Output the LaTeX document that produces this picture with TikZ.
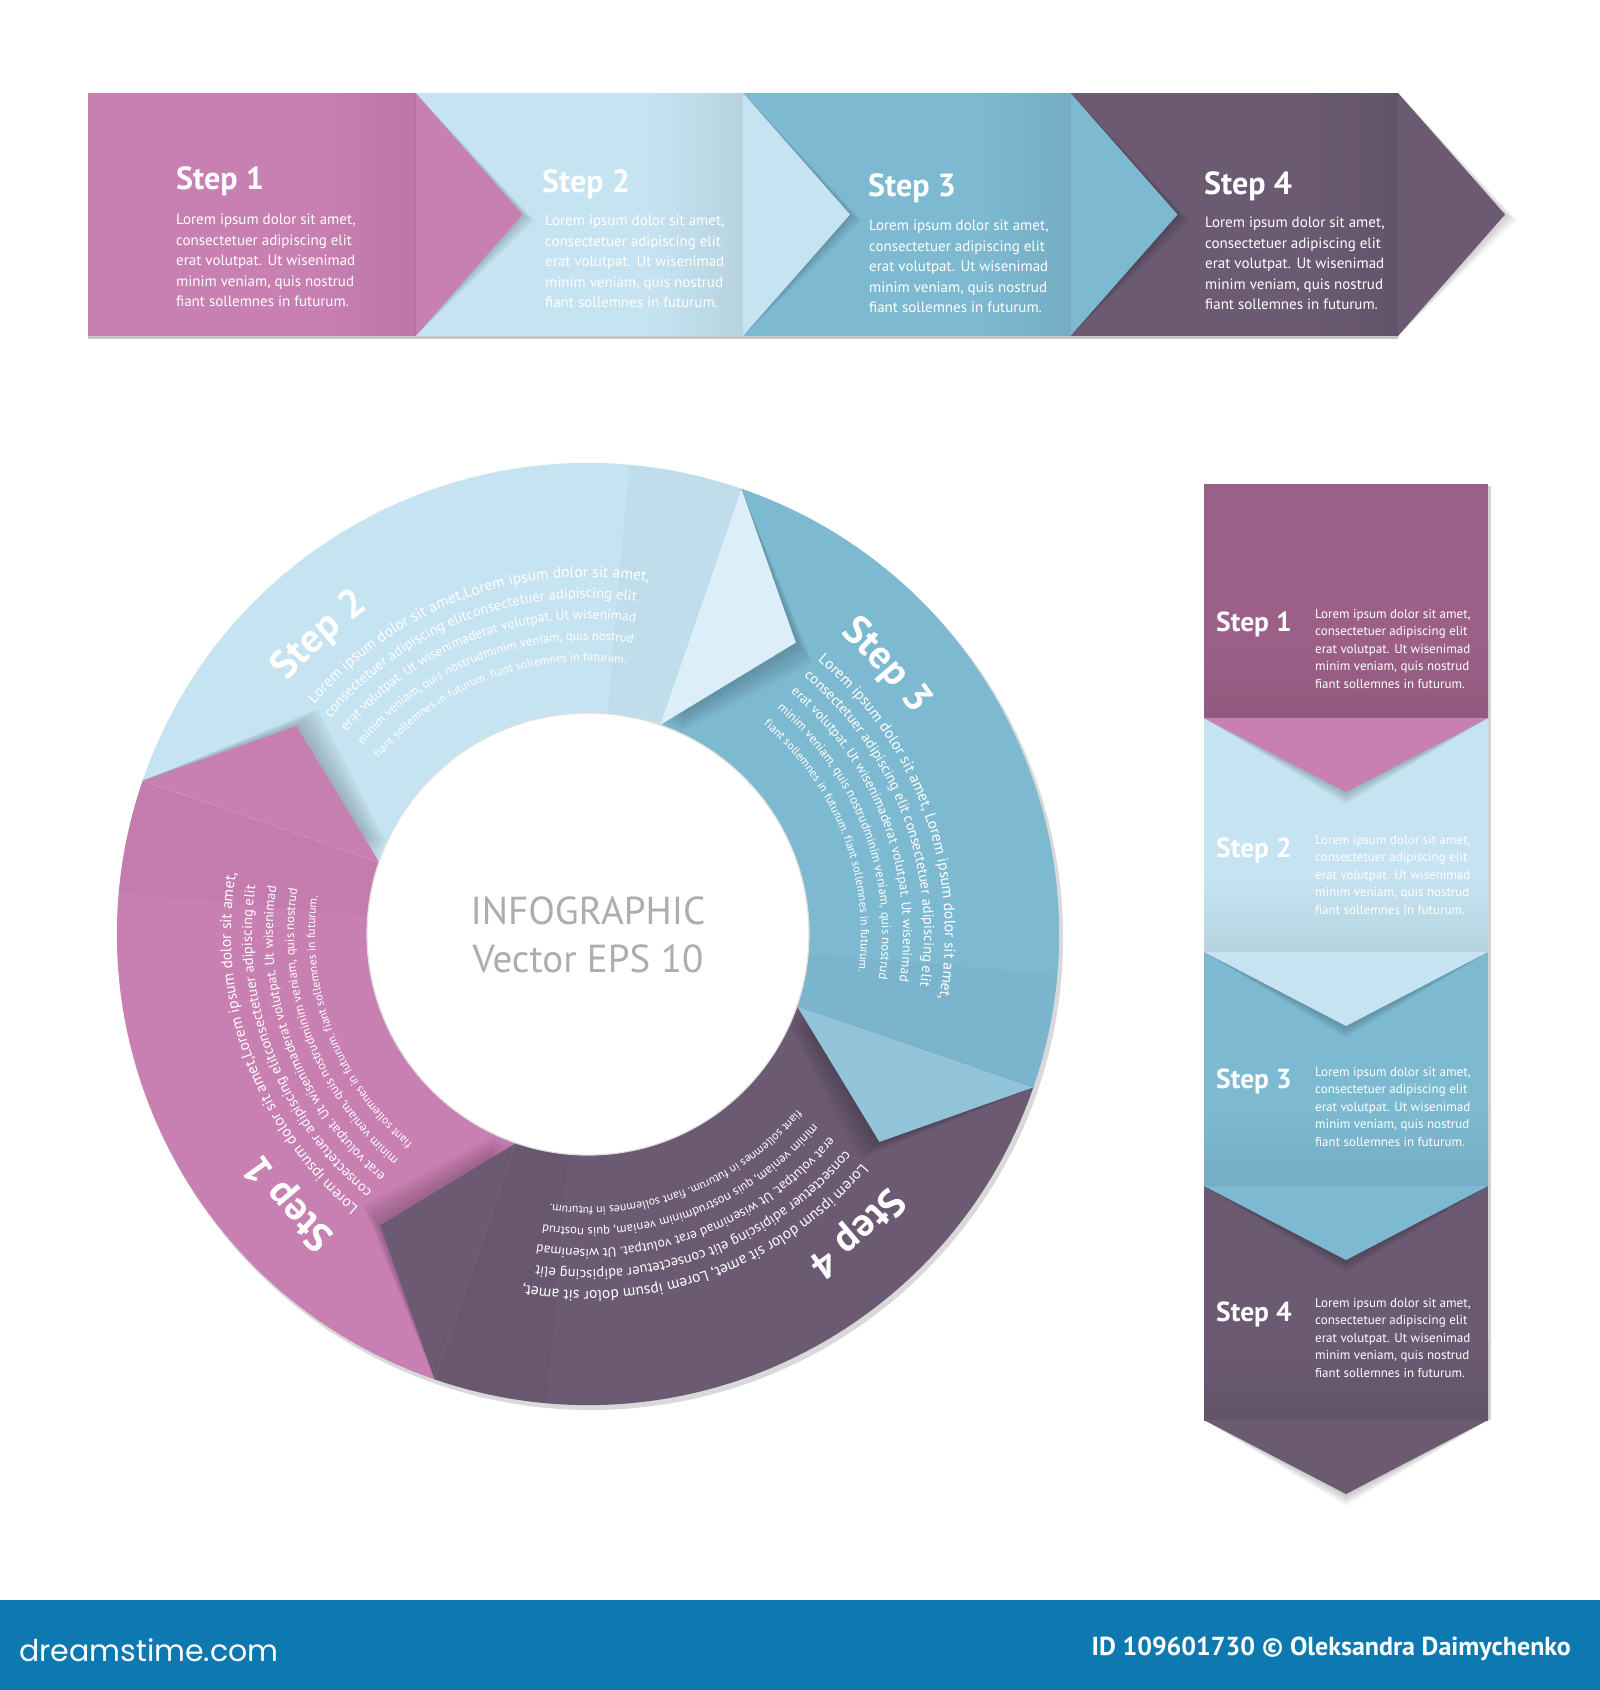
\documentclass[tikz,border=0pt]{standalone}
\usepackage{fontspec}
\setmainfont{PT Sans}
\newfontfamily\logofont{Poppins}
\usetikzlibrary{decorations.text}

\definecolor{stepPink}{HTML}{C87FB2}
\definecolor{stepSky}{HTML}{C5E3F1}
\definecolor{stepBlue}{HTML}{7DBAD2}
\definecolor{stepPlum}{HTML}{6B5A72}
\definecolor{stepMauve}{HTML}{9C6088}
\definecolor{barBlue}{HTML}{0E78B0}
\definecolor{centreGray}{HTML}{ADADAD}

\newcommand{\loremlines}{Lorem ipsum dolor sit amet,\\consectetuer adipiscing elit\\erat volutpat. Ut wisenimad\\minim veniam, quis nostrud\\fiant sollemnes in futurum.}

\newcommand{\ringline}[4]{%
  {\fontsize{#3}{#3}\selectfont
  \path[decorate, decoration={text along path, text color=white, text={#4}}]
    (#1:#2) arc[start angle=#1, end angle=#1-80, radius=#2];}}
\newcommand{\ringlabel}[2]{%
  {\bfseries\fontsize{40}{40}\selectfont
  \path[decorate, decoration={text along path, text color=white, text={#2}}]
    (#1:392) arc[start angle=#1, end angle=#1-40, radius=392];}}

\tikzset{
  rowlabel/.style={text=white, font=\bfseries\fontsize{32}{32}\selectfont, anchor=base west, inner sep=0pt},
  rownote/.style={text=white, font=\fontsize{15}{20.5}\selectfont, align=left, anchor=north west, inner sep=0pt},
  striplabel/.style={text=white, font=\bfseries\fontsize{27.5}{27.5}\selectfont, anchor=base west, inner sep=0pt},
  stripnote/.style={text=white, font=\fontsize{13}{17.5}\selectfont, align=left, anchor=north west, inner sep=0pt},
  centretext/.style={text=centreGray, font=\fontsize{39}{39}\selectfont, inner sep=0pt},
  softshade/.style={black, opacity=0.025}
}

\begin{document}
\begin{tikzpicture}[x=1pt, y=1pt]
\useasboundingbox (0,0) rectangle (1600,-1690);
\fill[white] (0,0) rectangle (1600,-1690);

\foreach \i/\col in {0/stepPink, 1/stepSky, 2/stepBlue, 3/stepPlum} {
  \fill[\col] ({88+327.5*\i},-93) rectangle ({415.5+327.5*\i},-336);
  \shade[left color=\col, right color=\col!93!black] ({320+327.5*\i},-93) rectangle ({415.5+327.5*\i},-336);
}
\fill[gray!45] (88,-336) rectangle (1398,-339);
\foreach \i/\col in {0/stepPink, 1/stepSky, 2/stepBlue, 3/stepPlum} {
  \foreach \k in {1,...,6}
    \fill[black, opacity=0.03] ({415.5+327.5*\i},-93) -- ({522.5+327.5*\i+2*\k},{-214.5-\k}) -- ({415.5+327.5*\i},-336) -- cycle;
  \fill[\col] ({415.5+327.5*\i},-93) -- ({522.5+327.5*\i},-214.5) -- ({415.5+327.5*\i},-336) -- cycle;
}

\node[rowlabel] (h1lab) at (176,-189) {Step 1};
\node[rowlabel] (h2lab) at (542,-192) {Step 2};
\node[rowlabel] (h3lab) at (868,-196) {Step 3};
\node[rowlabel] (h4lab) at (1204,-194) {Step 4};
\node[rownote] (h1note) at (176,-214) {\loremlines};
\node[rownote] (h2note) at (545,-215) {\loremlines};
\node[rownote] (h3note) at (869,-220) {\loremlines};
\node[rownote] (h4note) at (1205,-217) {\loremlines};

\begin{scope}[shift={(588,-934)}]
  \fill[gray!30] (3,-4) circle[radius=472];
  \foreach \S/\E/\col in {251/161/stepPink, 161/71/stepSky, 71/-19/stepBlue, -19/-109/stepPlum} {
    \fill[\col] (\S:471) arc[start angle=\S, end angle=\E, radius=471]
      -- (\E:221) arc[start angle=\E, end angle=\S, radius=221] -- cycle;
    \fill[softshade] ({\E+14}:471) arc[start angle=\E+14, end angle=\E, radius=471]
      -- (\E:221) arc[start angle=\E, end angle=\E+14, radius=221] -- cycle;
  }
  \fill[white] (0,0) circle[radius=221];
  \foreach \E/\flap in {161/stepPink, 71/stepSky!60!white, -19/stepBlue!85!white, -109/stepPlum} {
    \foreach \k in {1,...,6}
      \fill[black, opacity=0.035] (\E:471) -- ({\E-16.5-0.7*\k}:{358-\k}) -- ({\E-0.9*\k}:221) -- cycle;
    \fill[\flap] (\E:471) -- ({\E-16.5}:358) -- (\E:221) -- cycle;
  }
  \draw[gray!25, line width=1.2] (0,0) circle[radius=221];

  \node[centretext] (title) at (0,23) {INFOGRAPHIC};
  \node[centretext] (subtitle) at (0,-25) {Vector EPS 10};

  \ringlabel{140}{Step 2}
  \ringline{140}{357}{15.5}{Lorem ipsum dolor sit amet,Lorem ipsum dolor sit amet,}
  \ringline{140}{336}{14.5}{consectetuer adipiscing elitconsectetuer adipiscing elit}
  \ringline{140}{315}{13.6}{erat volutpat. Ut wisenimaderat volutpat. Ut wisenimad}
  \ringline{140}{294}{12.7}{minim veniam, quis nostrudminim veniam, quis nostrud}
  \ringline{140}{273}{11.8}{fiant sollemnes in futurum. fiant sollemnes in futurum.}

  \ringlabel{50}{Step 3}
  \ringline{50}{357}{15.5}{Lorem ipsum dolor sit amet, Lorem ipsum dolor sit amet,}
  \ringline{50}{336}{14.5}{consectetuer adipiscing elit consectetuer adipiscing elit}
  \ringline{50}{315}{13.6}{erat volutpat. Ut wisenimaderat volutpat. Ut wisenimad}
  \ringline{50}{294}{12.7}{minim veniam, quis nostrudminim veniam, quis nostrud}
  \ringline{50}{273}{11.8}{fiant sollemnes in futurum. fiant sollemnes in futurum.}

  \ringlabel{-40}{Step 4}
  \ringline{-40}{357}{15.5}{Lorem ipsum dolor sit amet, Lorem ipsum dolor sit amet,}
  \ringline{-40}{336}{14.5}{consectetuer adipiscing elit consectetuer adipiscing elit}
  \ringline{-40}{315}{13.6}{erat volutpat. Ut wisenimad erat volutpat. Ut wisenimad}
  \ringline{-40}{294}{12.7}{minim veniam, quis nostrudminim veniam, quis nostrud}
  \ringline{-40}{273}{11.8}{fiant sollemnes in futurum. fiant sollemnes in futurum.}

  \ringlabel{230}{Step 1}
  \ringline{230}{357}{15.5}{Lorem ipsum dolor sit amet,Lorem ipsum dolor sit amet,}
  \ringline{230}{336}{14.5}{consectetuer adipiscing elitconsectetuer adipiscing elit}
  \ringline{230}{315}{13.6}{erat volutpat. Ut wisenimaderat volutpat. Ut wisenimad}
  \ringline{230}{294}{12.7}{minim veniam, quis nostrudminim veniam, quis nostrud}
  \ringline{230}{273}{11.8}{fiant sollemnes in futurum. fiant sollemnes in futurum.}
\end{scope}

\fill[gray!35] (1488,-486) rectangle (1491,-1420);
\foreach \i/\col in {0/stepMauve, 1/stepSky, 2/stepBlue, 3/stepPlum} {
  \fill[\col] (1204,{-484-234*\i}) rectangle (1488,{-718-234*\i});
  \shade[top color=\col, bottom color=\col!93!black] (1204,{-640-234*\i}) rectangle (1488,{-718-234*\i});
}
\foreach \i/\col in {0/stepPink, 1/stepSky, 2/stepBlue, 3/stepPlum} {
  \foreach \k in {1,...,6}
    \fill[black, opacity=0.035] (1204,{-718-234*\i}) -- (1346,{-792-234*\i-2*\k}) -- (1488,{-718-234*\i}) -- cycle;
  \fill[\col] (1204,{-718-234*\i}) -- (1346,{-792-234*\i}) -- (1488,{-718-234*\i}) -- cycle;
}

\node[striplabel] (v1lab) at (1216,-631) {Step 1};
\node[striplabel] (v2lab) at (1216,-857) {Step 2};
\node[striplabel] (v3lab) at (1216,-1088) {Step 3};
\node[striplabel] (v4lab) at (1216,-1321) {Step 4};
\node[stripnote] (v1note) at (1315,-609) {\loremlines};
\node[stripnote] (v2note) at (1315,-835) {\loremlines};
\node[stripnote] (v3note) at (1315,-1067) {\loremlines};
\node[stripnote] (v4note) at (1315,-1298) {\loremlines};

\fill[barBlue] (0,-1600) rectangle (1600,-1690);
\node[text=white, font=\logofont\fontsize{30}{30}\selectfont, anchor=base west, inner sep=0pt] (logo) at (19,-1661) {dreamstime.com};
\node[text=white, font=\bfseries\fontsize{26}{26}\selectfont, anchor=base east, inner sep=0pt] (credit) at (1571,-1655) {ID 109601730 © Oleksandra Daimychenko};
\end{tikzpicture}
\end{document}
